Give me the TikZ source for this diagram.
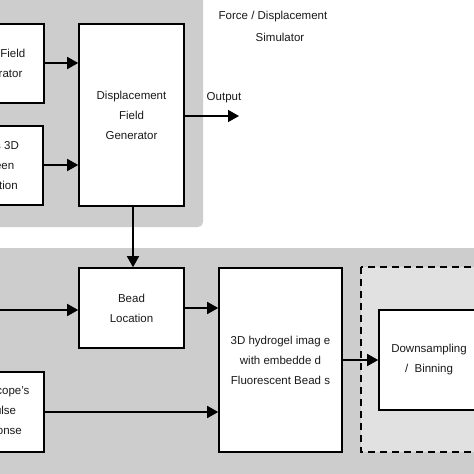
\documentclass[tikz,border=0pt]{standalone}
\usepackage{fontspec}
\setmainfont{Liberation Sans}
\usetikzlibrary{arrows.meta,calc,positioning}
\definecolor{simPanel}{HTML}{CDCDCD}
\definecolor{simDash}{HTML}{E1E1E1}
\definecolor{simInk}{HTML}{1A1A1A}

\begin{document}
\begin{tikzpicture}[x=1pt,y=-1pt,>={Triangle[length=11pt,width=12pt]},line join=miter]
\useasboundingbox (0,0) rectangle (474,474);
\path[fill=white] (0,0) rectangle (474,474);
\tikzset{blk/.style={draw=black,fill=white,line width=1.6pt,align=center,text=simInk,font=\fontsize{11.5}{20}\selectfont,inner sep=0pt},link/.style={draw=black,line width=1.6pt,->}}
% two grey panels
\path[fill=simPanel,rounded corners=5pt] (-12,-12) rectangle (203,227);
\path[fill=simPanel] (-12,248) rectangle (490,490);
\path[draw=black,fill=simDash,line width=1.6pt,dash pattern=on 7pt off 5pt] (361,267) rectangle (495,452);
\node[align=center,text=simInk,font=\fontsize{11.5}{22}\selectfont] (simtitle) at (273,26) {Force / Displacement\\\hspace*{14pt}Simulator};
% force / displacement simulator
\node[blk,minimum width=95pt,minimum height=79pt] (forcegen) at (-3.5,63.5) {Force Field\\Generator};
\node[blk,minimum width=94pt,minimum height=79pt] (cellgeo) at (-4,165.5) {Cell's 3D\\Screen\\Location};
\node[blk,minimum width=105pt,minimum height=182pt] (dispgen) at (131.5,115) {Displacement\\Field\\Generator};
\coordinate (dispout) at (239,116);
\draw[link] (forcegen.east |- 0,63) -- (dispgen.west |- 0,63);
\draw[link] (cellgeo.east |- 0,165) -- (dispgen.west |- 0,165);
\draw[link] (dispgen.east |- dispout) -- (dispout);
\node[text=simInk,font=\fontsize{11.5}{12}\selectfont] (outlbl) at (224,98) {Output};
% image formation
\node[blk,minimum width=105pt,minimum height=80pt] (beadloc) at (131.5,308) {Bead\\Location};
\node[blk,minimum width=96pt,minimum height=80pt] (psf) at (-4,412) {Microscope's\\Impulse\\Response};
\node[blk,minimum width=123pt,minimum height=184pt] (hydrogel) at (280.5,360) {3D hydrogel imag e\\with embedde d\\Fluorescent Bead s};
\node[blk,minimum width=100pt,minimum height=100pt] (downsamp) at (429,360) {Downsampling\\/\ \ Binning};
\coordinate (beadin) at (-4,310);
\draw[link] (dispgen.south -| 133,0) -- (beadloc.north -| 133,0);
\draw[link] (beadin) -- (beadin -| beadloc.west);
\draw[link] (beadloc.east |- 0,308) -- (hydrogel.west |- 0,308);
\draw[link] (psf.east) -- (psf.east -| hydrogel.west);
\draw[link] (hydrogel.east) -- (downsamp.west);
\end{tikzpicture}
\end{document}
